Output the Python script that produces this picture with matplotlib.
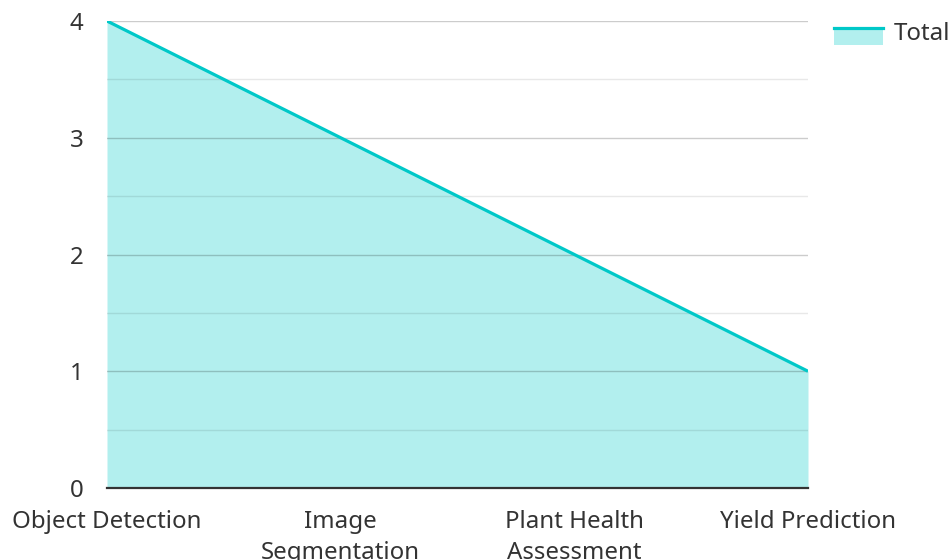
import matplotlib
matplotlib.use("Agg")
import matplotlib.pyplot as plt
from matplotlib.lines import Line2D
from matplotlib.patches import Rectangle

categories = ["Object Detection", "Image\nSegmentation", "Plant Health\nAssessment", "Yield Prediction"]
values = [4, 3, 2, 1]
series_name = "Total"

plt.rcParams['font.family'] = ['Noto Sans', 'DejaVu Sans']

FS = 17.3
fig = plt.figure(figsize=(9.5, 5.6), dpi=100)
ax = fig.add_axes([107/950, 1-488/560, (808-107)/950, (488-21)/560])

x = list(range(len(categories)))
ax.fill_between(x, values, 0, color="#b2efee", zorder=1, linewidth=0)
ax.plot(x, values, color="#00c8c8", linewidth=2.3, zorder=3, solid_capstyle="butt")

ax.set_xlim(0, len(categories)-1)
ax.set_ylim(0, 4)
ax.set_yticks([0, 1, 2, 3, 4])
ax.set_yticks([0.5, 1.5, 2.5, 3.5], minor=True)
ax.grid(axis="y", which="major", color="#000000", alpha=0.2, linewidth=1, zorder=2)
ax.grid(axis="y", which="minor", color="#000000", alpha=0.09, linewidth=1, zorder=2)
ax.set_axisbelow(False)

for s in ["top", "right", "left"]:
    ax.spines[s].set_visible(False)
ax.spines["bottom"].set_color("#333333")
ax.spines["bottom"].set_linewidth(1.6)
ax.spines["bottom"].set_zorder(4)

ax.set_xticks(x)
ax.set_xticklabels(categories, fontsize=FS, color="#333333", linespacing=1.35)
ax.tick_params(axis="x", length=0, pad=16)
ax.tick_params(axis="y", which="both", length=0, pad=17, labelsize=FS, labelcolor="#333333")


class H:
    def legend_artist(self, legend, orig, fontsize, handlebox):
        x0, y0 = handlebox.xdescent, handlebox.ydescent
        w, h = handlebox.width, handlebox.height
        top = y0 + h*0.78
        p = Rectangle((x0, top - 13), w, 13, facecolor="#b2efee", edgecolor="none",
                      transform=handlebox.get_transform())
        l = Line2D([x0, x0+w], [top - 1, top - 1], color="#00c8c8", linewidth=2.3,
                   transform=handlebox.get_transform())
        handlebox.add_artist(p)
        handlebox.add_artist(l)
        return p


leg = fig.legend([object()], [series_name], handler_map={object: H()}, loc="upper left",
                 bbox_to_anchor=(834/950, 1-22/560), frameon=False, fontsize=FS,
                 handlelength=2.05, handletextpad=0.45, borderaxespad=0, borderpad=0)
for t in leg.get_texts():
    t.set_color("#333333")

fig.savefig("out.png", dpi=100)
